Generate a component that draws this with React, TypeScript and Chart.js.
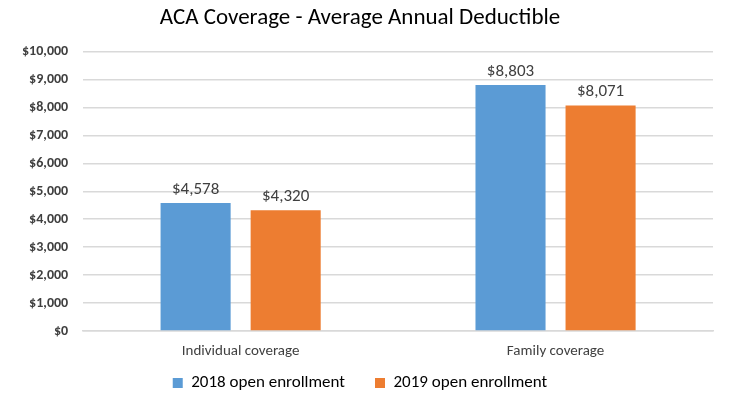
import React, { useEffect, useRef } from "react";
import { Chart, registerables } from "chart.js";

Chart.register(...registerables);

const categories = ["Individual coverage", "Family coverage"];
const series2018 = [4578, 8803];
const series2019 = [4320, 8071];
const seriesNames = ["2018 open enrollment", "2019 open enrollment"];
const titleText = "ACA Coverage - Average Annual Deductible";

const FONT = "Carlito, Calibri, 'Open Sans', sans-serif";

const fmt = (v: number) => "$" + v.toLocaleString("en-US");

const labelPlugin = {
  id: "barLabels",
  afterDatasetsDraw(chart: any) {
    const ctx = chart.ctx;
    ctx.save();
    ctx.font = `17px ${FONT}`;
    ctx.fillStyle = "#404040";
    ctx.textAlign = "center";
    ctx.textBaseline = "bottom";
    chart.data.datasets.forEach((ds: any, i: number) => {
      const meta = chart.getDatasetMeta(i);
      meta.data.forEach((bar: any, j: number) => {
        ctx.fillText(fmt(ds.data[j]), bar.x, bar.y - 5);
      });
    });
    ctx.restore();
  },
};

// raise the legend a little so the wide item spacing does not push it down
const legendShift = {
  id: "legendShift",
  afterLayout(chart: any) {
    const lg = chart.legend;
    if (lg) {
      lg.top -= 18.5;
      lg.bottom -= 18.5;
    }
  },
};

export default function App() {
  const ref = useRef<HTMLCanvasElement>(null);
  useEffect(() => {
    if (!ref.current) return;
    const chart = new Chart(ref.current, {
      type: "bar",
      data: {
        labels: categories,
        datasets: [
          { label: seriesNames[0], data: series2018, backgroundColor: "#5b9bd5", categoryPercentage: 0.572, barPercentage: 0.778 },
          { label: seriesNames[1], data: series2019, backgroundColor: "#ed7d31", categoryPercentage: 0.572, barPercentage: 0.778 },
        ],
      },
      options: {
        animation: false,
        responsive: false,
        layout: { padding: { left: 7, right: 18, top: 2, bottom: -20 } },
        plugins: {
          title: {
            display: true,
            text: titleText,
            color: "#000000",
            font: { family: FONT, size: 23, weight: "normal" },
            padding: { top: 2, bottom: 20 },
          },
          legend: {
            position: "bottom",
            labels: {
              boxWidth: 10,
              boxHeight: 10,
              color: "#000000",
              font: { family: FONT, size: 17 },
              padding: 30,
            },
          },
          tooltip: { enabled: false },
        },
        scales: {
          x: {
            grid: { display: false },
            border: { color: "#d9d9d9", width: 1.5 },
            ticks: { color: "#404040", font: { family: FONT, size: 15 }, padding: 3 },
          },
          y: {
            min: 0,
            max: 10000,
            ticks: {
              stepSize: 1000,
              color: "#404040",
              font: { family: FONT, size: 14, weight: "bold" },
              padding: 15,
              callback: (v: any) => fmt(Number(v)),
            },
            grid: { color: "#d9d9d9", drawTicks: false, lineWidth: 1.5 },
            border: { display: false },
          },
        },
      },
      plugins: [labelPlugin, legendShift],
    });
    return () => chart.destroy();
  }, []);
  return (
    <div style={{ position: "absolute", left: 0, top: 0, width: 731, height: 400, background: "#fff" }}>
      <canvas ref={ref} width={731} height={400} />
    </div>
  );
}
